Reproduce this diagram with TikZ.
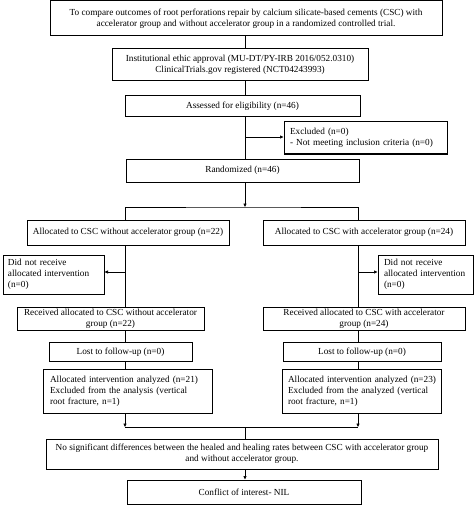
\documentclass[tikz,border=0pt]{standalone}
\usepackage{fontspec}
\setmainfont{Liberation Serif}
\usetikzlibrary{arrows.meta}
\begin{document}
\begin{tikzpicture}[x=1pt,y=-1pt,
  box/.style={draw, line width=1pt, inner sep=0pt, align=center, font=\fontsize{9.25}{11}\selectfont},
  lbox/.style={box, align=left, inner xsep=6pt},
  conn/.style={line width=0.7pt},
  arr/.style={conn, -{Triangle[length=3.5pt,width=3pt]}}]
\useasboundingbox (0,0) rectangle (474,505);
\coordinate (t) at (245,0);
\coordinate (tl) at (125,0);
\coordinate (tr) at (358,0);
\node[box, minimum width=392, minimum height=35] (b1) at (246,18.5) {To compare outcomes of root perforations repair by calcium silicate-based cements (CSC) with\\accelerator group and without accelerator group in a randomized controlled trial.};
\node[box, minimum width=256, minimum height=32] (b2) at (240,65) {Institutional ethic approval (MU-DT/PY-IRB 2016/052.0310)\\ClinicalTrials.gov registered (NCT04243993)};
\node[box, minimum width=235, minimum height=21] (b3) at (242.5,106.5) {Assessed for eligibility (n=46)};
\node[lbox, text width=151, minimum height=32] (ex) at (365.5,138) {Excluded (n=0)\\- Not meeting inclusion criteria (n=0)};
\node[box, minimum width=233, minimum height=23] (rd) at (242.5,170.5) {Randomized (n=46)};
\node[box, minimum width=202, minimum height=25] (al) at (128,232.5) {Allocated to CSC without accelerator group (n=22)};
\node[box, minimum width=202, minimum height=25] (ar) at (364,232.5) {Allocated to CSC with accelerator group (n=24)};
\node[lbox, inner xsep=5pt, text width=91, minimum height=39] (dl) at (53.5,274.5) {Did not receive\\allocated intervention\\(n=0)};
\node[lbox, inner xsep=6pt, text width=83, minimum height=39] (dr) at (425.5,274.5) {Did not receive\\\mbox{allocated intervention}\\(n=0)};
\node[box, minimum width=187, minimum height=23] (rl) at (110.5,318.5) {Received allocated to CSC without accelerator\\group (n=22)};
\node[box, minimum width=202, minimum height=23] (rr) at (364,318.5) {Received allocated to CSC with accelerator\\group (n=24)};
\node[box, minimum width=143, minimum height=19] (ll) at (120.5,352) {Lost to follow-up (n=0)};
\node[box, minimum width=158, minimum height=19] (lr) at (362,352) {Lost to follow-up (n=0)};
\node[lbox, inner xsep=7pt, text width=155, minimum height=44] (nl) at (127.5,391) {\mbox{Allocated intervention analyzed (n=21)}\\Excluded from the analysis (vertical\\root fracture, n=1)};
\node[lbox, inner xsep=6pt, text width=147, minimum height=44] (nr) at (361.5,391) {\mbox{Allocated intervention analyzed (n=23)}\\\mbox{Excluded from the analyzed (vertical}\\root fracture, n=1)};
\node[box, minimum width=392, minimum height=30] (cc) at (242,454) {No significant differences between the healed and healing rates between CSC with accelerator group\\and without accelerator group.};
\node[box, minimum width=234, minimum height=24] (ni) at (244,492) {Conflict of interest- NIL};
% trunk
\draw[conn] (b1.south -| t) -- (b2.north -| t);
\draw[conn] (b2.south -| t) -- (b3.north -| t);
\draw[conn] (b3.south -| t) -- (rd.north -| t);
\coordinate (je) at (245,137);
\draw[arr] (je) -- (je -| ex.west);
\coordinate (sp) at (245,207);
\draw[arr] (rd.south -| t) -- (sp);
\draw[conn] (al.north -| tl) |- (sp) -| (ar.north -| tr);
% left branch
\draw[conn] (al.south -| tl) -- (rl.north -| tl);
\coordinate (jl) at (125,272);
\draw[arr] (jl) -- (jl -| dl.east);
\draw[conn] (rl.south -| tl) -- (ll.north -| tl);
\draw[conn] (ll.south -| tl) -- (nl.north -| tl);
% right branch
\draw[conn] (ar.south -| tr) -- (rr.north -| tr);
\coordinate (jr) at (358,272);
\draw[arr] (jr) -- (jr -| dr.west);
\draw[conn] (rr.south -| tr) -- (lr.north -| tr);
\draw[conn] (lr.south -| tr) -- (nr.north -| tr);
% merge
\coordinate (ml) at (125,427);
\coordinate (mr) at (358,427);
\coordinate (mc) at (245,427);
\draw[arr] (nl.south -| tl) -- (ml);
\draw[arr] (nr.south -| tr) -- (mr);
\draw[conn] (ml) -- (mr);
\draw[conn] (mc) -- (cc.north -| t);
\draw[arr] (cc.south -| t) -- (ni.north -| t);
\end{tikzpicture}
\end{document}
